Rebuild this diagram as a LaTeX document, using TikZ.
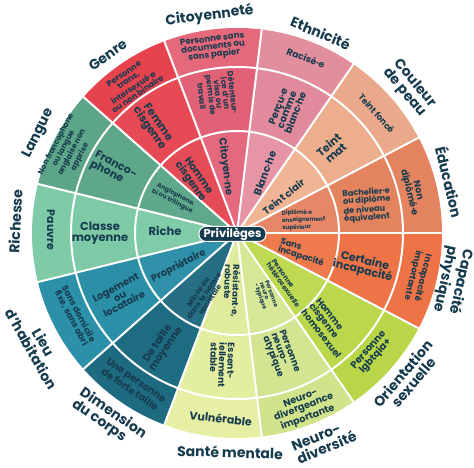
\documentclass[tikz,border=0pt]{standalone}
\usepackage{fontspec}
\setmainfont{Poppins}[BoldFont={Poppins Bold}]
\definecolor{ink}{HTML}{173B4E}
\definecolor{genA}{HTML}{E6434F}\definecolor{genB}{HTML}{E84A55}\definecolor{genC}{HTML}{E64C55}
\definecolor{citA}{HTML}{E5697B}\definecolor{citB}{HTML}{E16276}\definecolor{citC}{HTML}{E4697E}
\definecolor{ethA}{HTML}{E38E9D}\definecolor{ethB}{HTML}{E08A9B}\definecolor{ethC}{HTML}{E795A4}
\definecolor{couA}{HTML}{EBA98B}\definecolor{couB}{HTML}{EDAE8E}\definecolor{couC}{HTML}{F0B594}
\definecolor{eduA}{HTML}{E4835F}\definecolor{eduB}{HTML}{E4845F}\definecolor{eduC}{HTML}{E88767}
\definecolor{capA}{HTML}{EE7347}\definecolor{capB}{HTML}{EE7447}\definecolor{capC}{HTML}{EE7A4E}
\definecolor{oriA}{HTML}{B8D648}\definecolor{oriB}{HTML}{BBD84C}\definecolor{oriC}{HTML}{BED952}
\definecolor{neuA}{HTML}{D1E48B}\definecolor{neuB}{HTML}{D3E590}\definecolor{neuC}{HTML}{D6E795}
\definecolor{sanA}{HTML}{E6EFA3}\definecolor{sanB}{HTML}{E4EEA1}\definecolor{sanC}{HTML}{E0EB9D}
\definecolor{dimA}{HTML}{1E6A80}\definecolor{dimB}{HTML}{1E6C82}\definecolor{dimC}{HTML}{256E84}
\definecolor{lieA}{HTML}{2C90A8}\definecolor{lieB}{HTML}{2B8FA7}\definecolor{lieC}{HTML}{2F91A9}
\definecolor{ricA}{HTML}{7FCBA7}\definecolor{ricB}{HTML}{7ECAA6}\definecolor{ricC}{HTML}{80CBA8}
\definecolor{lanA}{HTML}{5CA588}\definecolor{lanB}{HTML}{5EA78A}\definecolor{lanC}{HTML}{60A88B}
\newcommand\wf[2]{\fontsize{#1}{#2}\selectfont\bfseries}
\newcommand\wsector[5]{%
  \fill[#5] (0,0) -- (#1:102pt) arc[start angle=#1,end angle=#2,radius=102pt] -- cycle;
  \fill[#4] (#1:102pt) arc[start angle=#1,end angle=#2,radius=102pt] -- (#2:166pt) arc[start angle=#2,end angle=#1,radius=166pt] -- cycle;
  \fill[#3] (#1:166pt) arc[start angle=#1,end angle=#2,radius=166pt] -- (#2:205pt) arc[start angle=#2,end angle=#1,radius=205pt] -- cycle;
}
\tikzset{
  wt/.style={text=ink, align=center, inner sep=0pt},
  wl/.style={text=ink, align=left, inner sep=0pt},
  cat/.style={text=ink, align=center, inner sep=0pt, font=\wf{14}{13.8}},
  catl/.style={text=ink, align=left, inner sep=0pt, font=\wf{14}{13.8}},
}
\begin{document}
\begin{tikzpicture}
\useasboundingbox (-237pt,-235pt) rectangle (237pt,233pt);
% sectors
\wsector{0}{27.692}{eduA}{eduB}{eduC}
\wsector{27.692}{55.385}{couA}{couB}{couC}
\wsector{55.385}{83.077}{ethA}{ethB}{ethC}
\wsector{83.077}{110.769}{citA}{citB}{citC}
\wsector{110.769}{138.462}{genA}{genB}{genC}
\wsector{138.462}{166.154}{lanA}{lanB}{lanC}
\wsector{166.154}{193.846}{ricA}{ricB}{ricC}
\wsector{193.846}{221.538}{lieA}{lieB}{lieC}
\wsector{221.538}{249.231}{dimA}{dimB}{dimC}
\wsector{249.231}{276.923}{sanA}{sanB}{sanC}
\wsector{276.923}{304.615}{neuA}{neuB}{neuC}
\wsector{304.615}{332.308}{oriA}{oriB}{oriC}
\wsector{332.308}{360}{capA}{capB}{capC}
% white separators
\draw[white, line width=2pt] (0,0) circle[radius=102pt];
\draw[white, line width=2pt] (0,0) circle[radius=166pt];
\foreach \a in {0,27.692,55.385,83.077,110.769,138.462,166.154,193.846,221.538,249.231,276.923,304.615,332.308}
  \draw[white, line width=2pt] (0,0) -- (\a:205pt);
% Genre
\node[wt, font=\wf{8.2}{7.8}, rotate=34.6] (g3) at (125.5:183pt) {Personne\\trans,\\intersexué·e\\ou non binaire};
\node[wt, font=\wf{11}{10.5}, rotate=-55.4] (g2) at (128:136pt) {Femme\\cisgenre};
\node[wt, font=\wf{10.3}{10}, rotate=-55.4] (g1) at (128.5:69pt) {Homme\\cisgenre};
% Citoyennete
\node[wt, font=\wf{8.6}{8}, rotate=6.9] (c3) at (97.3:187pt) {Personne sans\\documents ou\\sans papier};
\node[wt, font=\wf{7.8}{7.3}, rotate=-83.1] (c2) at (98:140pt) {Détenteur·\\ice d'un\\visa ou\\permis de\\travail};
\node[wt, font=\wf{10.3}{10}, rotate=-83.1] (c1) at (100:67pt) {Citoyen·ne};
% Ethnicite
\node[wt, font=\wf{9.2}{9}, rotate=-20.8] (e3) at (68.5:188pt) {Racisé·e};
\node[wt, font=\wf{9.8}{9.2}, rotate=69.2] (e2) at (68:133pt) {Perçu·e\\comme\\blanc·he};
\node[wt, font=\wf{10.3}{10}, rotate=69.2] (e1) at (65:66pt) {Blanc·he};
% Couleur de peau
\node[wt, font=\wf{8.6}{8.5}, rotate=-48.5] (p3) at (40.6:184pt) {Teint foncé};
\node[wt, font=\wf{11}{10.5}, rotate=41.5] (p2) at (41.5:127pt) {Teint\\mat};
\node[wt, font=\wf{9.8}{9.5}, rotate=38] (p1) at (38:59pt) {Teint clair};
% Education
\node[wt, font=\wf{9.2}{9}, rotate=-76.15] (d3) at (13.2:181pt) {Non\\diplômé·e};
\node[wl, font=\wf{8.2}{7.8}, rotate=4] (d2) at (12:133pt) {Bachelier·e\\ou diplôme\\de niveau\\équivalent};
\node[wl, font=\wf{5.8}{5.6}, rotate=2] (d1) at (11:68pt) {Diplômé·e\\enseignement\\supérieur};
% Capacite physique
\node[wt, font=\wf{8.6}{8.3}, rotate=-103.85] (a3) at (-13.5:186pt) {Incapacité\\importante};
\node[wt, font=\wf{11}{10.3}, rotate=-13.85] (a2) at (-14.7:131pt) {Certaine\\incapacité};
\node[wl, font=\wf{8.6}{8.3}, rotate=-18] (a1) at (-17:68pt) {Sans\\incapacité};
% Orientation sexuelle
\node[wt, font=\wf{9.8}{9.3}, rotate=48.5] (o3) at (-41.6:181pt) {Personne\\lgbtqia+};
\node[wl, font=\wf{9.2}{8.7}, rotate=-52] (o2) at (-46:132pt) {Homme\\cisgenre\\homosexuel};
\node[wl, font=\wf{6.9}{6.6}, rotate=-55] (o1) at (-45.8:70pt) {Personne\\hétérosexuelle};
% Neurodiversite
\node[wt, font=\wf{9.6}{9}, rotate=20.8] (n3) at (-69:188pt) {Neuro-\\divergeance\\importante};
\node[wl, font=\wf{9.2}{8.7}, rotate=-69.2] (n2) at (-70:129pt) {Personne\\neuro-\\atypique};
\node[wl, font=\wf{5.8}{5.6}, rotate=-70] (n1) at (-65.5:69pt) {Personne\\neuro\\-typique};
% Sante mentale
\node[wt, font=\wf{11}{10.5}, rotate=-6.9] (s3) at (-95:186pt) {Vulnérable};
\node[wl, font=\wf{9.2}{8.7}, rotate=-92] (s2) at (-96.5:133pt) {Essent-\\iellement\\stable};
\node[wl, font=\wf{8.6}{8.3}, rotate=-92] (s1) at (-95:58pt) {Résistant·e,\\robuste};
% Dimension du corps
\node[wt, font=\wf{9.8}{9.3}, rotate=-34.6] (b3) at (-124.4:184pt) {Une personne\\de forte taille};
\node[wt, font=\wf{10.3}{10}, rotate=55.4] (b2) at (-123.6:136pt) {De taille\\moyenne};
\node[wt, font=\wf{7.4}{7.1}, rotate=55.4] (b1) at (-118:71pt) {Mince ou\\dans la norme\\sociétale};
% Lieu d'habitation
\node[wt, font=\wf{8.6}{8.3}, rotate=-62.3] (h3) at (-152.9:182pt) {Sans domicile\\fixe, sans abri};
\node[wt, font=\wf{9.8}{9.3}, rotate=27.7] (h2) at (-151.7:133pt) {Logement\\ou\\locataire};
\node[wt, font=\wf{9.8}{9.5}, rotate=27.7] (h1) at (-150.7:67pt) {Propriétaire};
% Richesse
\node[wt, font=\wf{11}{10.5}, rotate=-90] (r3) at (179:186pt) {Pauvre};
\node[wt, font=\wf{11.5}{11}] (r2) at (180:137pt) {Classe\\moyenne};
\node[wt, font=\wf{11.5}{11}] (r1) at (178:72pt) {Riche};
% Langue
\node[wt, font=\wf{7.6}{7.2}, rotate=62.3] (l3) at (154:188pt) {Non francophone\\ou langue\\anglaise non\\apprise};
\node[wl, font=\wf{11}{10.5}, rotate=-27.7] (l2) at (153:139pt) {Franco-\\phone};
\node[wt, font=\wf{6.4}{6.2}, rotate=-27.7] (l1) at (151:72pt) {Anglophone,\\bi ou trilingue};
% centre
\node[fill=ink, draw=white, line width=1pt, rounded corners=7pt, text=white, font=\wf{11.5}{11.5}, minimum width=67pt, minimum height=15pt, inner sep=0pt] (priv) at (-4.5pt,-1pt) {Privilèges};
% category labels
\node[cat, rotate=36] (kgen) at (126:220pt) {Genre};
\node[cat, rotate=7.2] (kcit) at (97.2:219pt) {Citoyenneté};
\node[cat, rotate=-22.7] (keth) at (67.3:217pt) {Ethnicité};
\node[catl, rotate=-50] (kcou) at (40:225pt) {Couleur\\de peau};
\node[cat, rotate=-76.5] (kedu) at (13.5:219pt) {Éducation};
\node[catl, rotate=-102.5] (kcap) at (-12.5:221pt) {Capacité\\physique};
\node[cat, rotate=49.7] (kori) at (-40.3:224pt) {Orientation\\sexuelle};
\node[catl, rotate=22.7] (kneu) at (-67.3:226pt) {Neuro-\\diversité};
\node[cat, rotate=-1.8] (ksan) at (-91.8:219pt) {Santé mentale};
\node[catl, rotate=-34.5] (kdim) at (-124.5:226pt) {Dimension\\du corps};
\node[cat, rotate=-60.5] (klie) at (-150.5:229pt) {Lieu\\d'habitation};
\node[cat, rotate=87] (kric) at (177:222pt) {Richesse};
\node[cat, rotate=63.4] (klan) at (153.4:222pt) {Langue};
\end{tikzpicture}
\end{document}
